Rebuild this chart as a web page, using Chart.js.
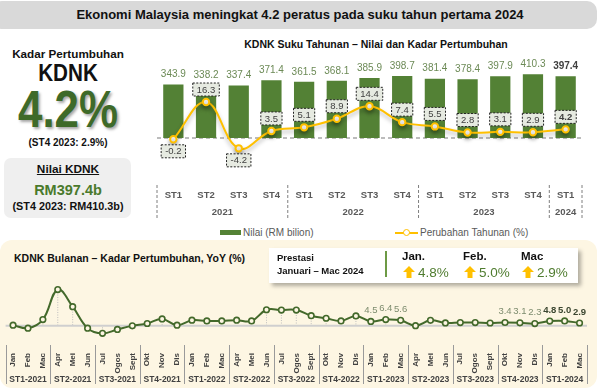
<!DOCTYPE html>
<html>
<head>
<meta charset="utf-8">
<script src="https://cdn.jsdelivr.net/npm/chart.js@4.4.1/dist/chart.umd.min.js"></script>
<style>
body{margin:0;width:600px;height:391px;overflow:hidden;background:#fff;position:relative;font-family:"Liberation Sans",Arial,sans-serif}
.abs{position:absolute;white-space:nowrap}
.c{text-align:center}
.b{font-weight:bold}
.narrow{transform:scaleX(0.86)}
</style>
</head>
<body>
<!-- header banner -->
<div class="abs" style="left:-8px;top:1px;width:605px;height:28px;background:#d9d9d9;border-radius:10px"></div>
<div class="abs c b" style="left:0;top:1px;width:600px;line-height:28px;font-size:13px;color:#111">Ekonomi Malaysia meningkat 4.2 peratus pada suku tahun pertama 2024</div>

<!-- left panel -->
<div class="abs c b" style="left:0;top:46px;width:136px;line-height:15px;font-size:11.7px;color:#111">Kadar Pertumbuhan</div>
<div class="abs c b narrow" style="left:0;top:60px;width:136px;line-height:26px;font-size:24px;color:#111">KDNK</div>
<div class="abs c b narrow" style="left:0;top:82px;width:136px;line-height:56px;font-size:51px;color:#3e6a29;text-shadow:2px 2px 3px rgba(0,0,0,0.35)">4.2%</div>
<div class="abs c b" style="left:0;top:137px;width:136px;line-height:12px;font-size:10px;color:#111">(ST4 2023: 2.9%)</div>
<div class="abs" style="left:4px;top:158px;width:127px;height:60px;background:#efefef;border-radius:7px"></div>
<div class="abs c b" style="left:0;top:162px;width:136px;line-height:15px;font-size:11.8px;color:#111;text-decoration:underline">Nilai KDNK</div>
<div class="abs c b" style="left:0;top:181px;width:136px;line-height:18px;font-size:14.5px;color:#4a7a2c">RM397.4b</div>
<div class="abs c b" style="left:0;top:200px;width:136px;line-height:13px;font-size:10.8px;color:#111">(ST4 2023: RM410.3b)</div>

<!-- quarterly chart -->
<div class="abs c b" style="left:226px;top:37px;width:300px;line-height:14px;font-size:10.5px;color:#111">KDNK Suku Tahunan – Nilai dan Kadar Pertumbuhan</div>
<canvas id="quarterChart" class="abs" style="left:150px;top:52px" width="450" height="172"></canvas>
<div class="abs" style="left:220px;top:230px;width:21px;height:5px;background:#548235"></div>
<div class="abs" style="left:243px;top:226px;line-height:13px;font-size:10px;color:#595959">Nilai (RM bilion)</div>
<div class="abs" style="left:395px;top:231.5px;width:23px;height:2px;background:#ffc000"></div>
<div class="abs" style="left:403px;top:228.5px;width:5px;height:5px;background:#fff;border:1.5px solid #ffc000;border-radius:50%"></div>
<div class="abs" style="left:420px;top:226px;line-height:13px;font-size:10px;color:#595959">Perubahan Tahunan (%)</div>

<!-- monthly panel -->
<div class="abs" style="left:0;top:240px;width:597px;height:148px;background:#fdf6e3;border-radius:12px"></div>
<div class="abs b" style="left:14px;top:251px;line-height:14px;font-size:10.5px;color:#111">KDNK Bulanan – Kadar Pertumbuhan, YoY (%)</div>
<canvas id="monthChart" class="abs" style="left:0;top:280px" width="600" height="111"></canvas>

<div class="abs" style="left:269px;top:248px;width:309px;height:35px;background:#fff;box-shadow:3px 3px 4px rgba(0,0,0,0.3)"></div>
<div class="abs b" style="left:277px;top:252px;line-height:12px;font-size:9.5px;color:#111">Prestasi</div>
<div class="abs b" style="left:277px;top:265px;line-height:12px;font-size:9.5px;color:#111">Januari – Mac 2024</div>
<div class="abs" style="left:385px;top:251px;width:1.5px;height:26px;background:#6d9a45"></div>
<div id="prestasi"></div>

<script>
// quarterly GDP
const quarterLabels = ['ST1', 'ST2', 'ST3', 'ST4', 'ST1', 'ST2', 'ST3', 'ST4', 'ST1', 'ST2', 'ST3', 'ST4', 'ST1'];
const quarterYears = ['2021', '2021', '2021', '2021', '2022', '2022', '2022', '2022', '2023', '2023', '2023', '2023', '2024'];
const gdpValue = [343.9, 338.2, 337.4, 371.4, 361.5, 368.1, 385.9, 398.7, 381.4, 378.4, 397.9, 410.3, 397.4];
const gdpGrowth = [-0.2, 16.3, -4.2, 3.5, 5.1, 8.9, 14.4, 7.4, 5.5, 2.8, 3.1, 2.9, 4.2];

// monthly GDP growth
const monthLabels = [
  'Jan', 'Feb', 'Mac', 'Apr', 'Mei', 'Jun', 'Jul', 'Ogos', 'Sept', 'Okt', 'Nov', 'Dis',
  'Jan', 'Feb', 'Mac', 'Apr', 'Mei', 'Jun', 'Jul', 'Ogos', 'Sept', 'Okt', 'Nov', 'Dis',
  'Jan', 'Feb', 'Mac', 'Apr', 'Mei', 'Jun', 'Jul', 'Ogos', 'Sept', 'Okt', 'Nov', 'Dis',
  'Jan', 'Feb', 'Mac'
];
const quarterGroups = ['ST1-2021', 'ST2-2021', 'ST3-2021', 'ST4-2021', 'ST1-2022', 'ST2-2022', 'ST3-2022', 'ST4-2022',
  'ST1-2023', 'ST2-2023', 'ST3-2023', 'ST4-2023', 'ST1-2024'];
const monthlyGrowth = [
  0.7, -2.3, 6.4, 36.7, 19.4, -2.3, -7.6, -3.6, 0.0, 2.4, 7.0, 0.7,
  5.7, 5.0, 5.0, 5.7, 5.0, 16.3, 16.0, 16.0, 10.3, 7.7, 5.0, 10.0,
  4.5, 6.4, 5.6, 0.2, 5.6, 3.0, 3.3, 3.3, 2.9, 3.4, 3.1, 2.3,
  4.8, 5.0, 2.9
];
const labelledMonths = [24, 25, 26, 33, 34, 35, 36, 37, 38];
const boldMonths = [36, 37, 38];

// prestasi Jan - Mac 2024
const prestasiMonths = ['Jan.', 'Feb.', 'Mac'];
const prestasiValues = [4.8, 5.0, 2.9];

const FONT = '"Liberation Sans", Arial, sans-serif';

// prestasi boxes
const prestasiX = [402, 463, 521];
let html = '';
prestasiMonths.forEach((m, i) => {
  const x = prestasiX[i];
  html += `<div class="abs b" style="left:${x}px;top:249px;line-height:14px;font-size:11.5px;color:#111">${m}</div>`;
  html += `<svg class="abs" style="left:${x + 1}px;top:266px" width="12" height="12"><polygon points="6,0 12,6 8.5,6 8.5,12 3.5,12 3.5,6 0,6" fill="#ffc000"/></svg>`;
  html += `<div class="abs" style="left:${x + 16}px;top:265px;line-height:16px;font-size:13.5px;color:#4f7c2f">${prestasiValues[i].toFixed(1)}%</div>`;
});
document.getElementById('prestasi').innerHTML = html;

const quarterDecor = {
  id: 'quarterDecor',
  beforeDatasetsDraw(chart) {
    const { ctx, chartArea: a, scales } = chart;
    const y0 = scales.y.getPixelForValue(0);
    ctx.save();
    ctx.strokeStyle = '#a6a6a6';
    ctx.lineWidth = 1.5;
    ctx.setLineDash([4, 3]);
    ctx.beginPath();
    ctx.moveTo(a.left, y0);
    ctx.lineTo(a.right, y0);
    ctx.stroke();
    ctx.restore();
  },
  beforeDatasetDraw(chart, args) {
    if (args.meta.type !== 'line') return;
    const ctx = chart.ctx;
    ctx.save();
    ctx.shadowColor = 'rgba(0,0,0,0.3)';
    ctx.shadowBlur = 4;
    ctx.shadowOffsetY = 3;
  },
  afterDatasetDraw(chart, args) {
    if (args.meta.type === 'line') chart.ctx.restore();
  },
  afterDatasetsDraw(chart) {
    const { ctx, chartArea: a, scales } = chart;
    const last = gdpValue.length - 1;
    ctx.save();
    // bar values
    ctx.textAlign = 'center';
    ctx.textBaseline = 'middle';
    chart.getDatasetMeta(0).data.forEach((el, i) => {
      ctx.font = (i === last ? 'bold ' : '') + '10px ' + FONT;
      ctx.fillStyle = i === last ? '#404040' : '#6c8a56';
      ctx.fillText(gdpValue[i].toFixed(1), el.x, el.y - 10);
    });
    // growth boxes
    chart.getDatasetMeta(1).data.forEach((el, i) => {
      const v = gdpGrowth[i];
      const txt = v.toFixed(1);
      ctx.font = (i === last ? 'bold ' : '') + '9.5px ' + FONT;
      const w = ctx.measureText(txt).width + 8;
      const h = 13;
      const cy = v >= 0 ? el.y - 12.5 : el.y + 12;
      ctx.fillStyle = '#e6eae1';
      ctx.fillRect(el.x - w / 2, cy - h / 2, w, h);
      ctx.strokeStyle = '#222';
      ctx.lineWidth = 1;
      ctx.setLineDash([2, 1.5]);
      ctx.strokeRect(el.x - w / 2, cy - h / 2, w, h);
      ctx.setLineDash([]);
      ctx.fillStyle = '#404040';
      ctx.fillText(txt, el.x, cy + 0.5);
    });
    // axis labels
    const x = scales.x;
    const half = (x.getPixelForValue(1) - x.getPixelForValue(0)) / 2;
    ctx.font = 'bold 9.5px ' + FONT;
    ctx.fillStyle = '#595959';
    quarterLabels.forEach((q, i) => ctx.fillText(q, x.getPixelForValue(i), a.bottom + 20.7));
    let start = 0;
    ctx.strokeStyle = '#7f7f7f';
    ctx.lineWidth = 1;
    ctx.setLineDash([3, 2]);
    const sep = px => {
      ctx.beginPath();
      ctx.moveTo(px, a.bottom + 10);
      ctx.lineTo(px, a.bottom + 43);
      ctx.stroke();
    };
    sep(x.getPixelForValue(0) - half);
    for (let i = 1; i <= quarterYears.length; i++) {
      if (i === quarterYears.length || quarterYears[i] !== quarterYears[start]) {
        const cx = (x.getPixelForValue(start) + x.getPixelForValue(i - 1)) / 2;
        ctx.fillText(quarterYears[start], cx, a.bottom + 37.7);
        sep(x.getPixelForValue(i - 1) + half);
        start = i;
      }
    }
    ctx.restore();
  }
};

new Chart(document.getElementById('quarterChart'), {
  type: 'bar',
  data: {
    labels: quarterLabels,
    datasets: [{
      type: 'bar',
      label: 'Nilai (RM bilion)',
      data: gdpValue,
      backgroundColor: '#538135',
      categoryPercentage: 1,
      barPercentage: 0.62,
      yAxisID: 'y',
      order: 2
    }, {
      type: 'line',
      label: 'Perubahan Tahunan (%)',
      data: gdpGrowth,
      borderColor: '#ffc000',
      borderWidth: 2,
      tension: 0.4,
      pointRadius: 3.2,
      pointBackgroundColor: '#fff',
      pointBorderColor: '#ffc000',
      pointBorderWidth: 2,
      yAxisID: 'y2',
      order: 1
    }]
  },
  options: {
    responsive: false,
    animation: false,
    layout: { padding: { left: 7, right: 18, top: 8, bottom: 49 } },
    plugins: { legend: { display: false }, tooltip: { enabled: false } },
    scales: {
      x: { display: false },
      y: { display: false, min: -237.9, max: 501.6 },
      y2: { display: false, min: -16.0, max: 34.9 }
    }
  },
  plugins: [quarterDecor]
});

const monthDecor = {
  id: 'monthDecor',
  beforeDatasetsDraw(chart) {
    const { ctx, chartArea: a, scales } = chart;
    const y0 = scales.y.getPixelForValue(0);
    ctx.save();
    ctx.strokeStyle = '#bdbdbd';
    ctx.lineWidth = 1;
    ctx.setLineDash([1, 1.5]);
    monthlyGrowth.forEach((v, i) => {
      if (v > 6 || v < -5) {
        const px = scales.x.getPixelForValue(i);
        ctx.beginPath();
        ctx.moveTo(px, scales.y.getPixelForValue(v));
        ctx.lineTo(px, y0);
        ctx.stroke();
      }
    });
    ctx.setLineDash([]);
    ctx.strokeStyle = '#cfcfcf';
    ctx.lineWidth = 2;
    ctx.beginPath();
    ctx.moveTo(a.left, y0);
    ctx.lineTo(a.right, y0);
    ctx.stroke();
    ctx.restore();
  },
  afterDatasetsDraw(chart) {
    const { ctx } = chart;
    ctx.save();
    ctx.textAlign = 'center';
    ctx.textBaseline = 'middle';
    const pts = chart.getDatasetMeta(0).data;
    labelledMonths.forEach(i => {
      const bold = boldMonths.includes(i);
      ctx.font = (bold ? 'bold ' : '') + '9.5px ' + FONT;
      ctx.fillStyle = bold ? '#3b4630' : '#7d8c6e';
      ctx.fillText(monthlyGrowth[i].toFixed(1), pts[i].x, pts[i].y - 11);
    });
    ctx.restore();
  },
  afterDraw(chart) {
    const { ctx, chartArea: a, scales } = chart;
    const x = scales.x;
    const half = (x.getPixelForValue(1) - x.getPixelForValue(0)) / 2;
    ctx.save();
    ctx.font = 'bold 8.5px ' + FONT;
    ctx.fillStyle = '#404040';
    ctx.textAlign = 'center';
    ctx.textBaseline = 'middle';
    ctx.strokeStyle = '#9a9a9a';
    ctx.lineWidth = 1;
    quarterGroups.forEach((q, g) => {
      const first = x.getPixelForValue(g * 3);
      const lastPx = x.getPixelForValue(g * 3 + 2);
      ctx.fillText(q, (first + lastPx) / 2, a.bottom + 39.5);
      const left = Math.round(first - half) + 0.5;
      ctx.beginPath();
      ctx.moveTo(left, a.bottom + 5);
      ctx.lineTo(left, a.bottom + 44);
      ctx.stroke();
    });
    const right = Math.round(x.getPixelForValue(monthLabels.length - 1) + half) + 0.5;
    ctx.beginPath();
    ctx.moveTo(right, a.bottom + 5);
    ctx.lineTo(right, a.bottom + 44);
    ctx.stroke();
    ctx.restore();
  }
};

new Chart(document.getElementById('monthChart'), {
  type: 'line',
  data: {
    labels: monthLabels,
    datasets: [{
      data: monthlyGrowth,
      borderColor: '#43692b',
      borderWidth: 2,
      tension: 0.4,
      pointRadius: 2.8,
      pointBackgroundColor: '#fdf6e3',
      pointBorderColor: '#43692b',
      pointBorderWidth: 1.6
    }]
  },
  options: {
    responsive: false,
    animation: false,
    layout: { padding: { left: 5, right: 13, top: 5, bottom: 0 } },
    plugins: { legend: { display: false }, tooltip: { enabled: false } },
    scales: {
      x: {
        offset: true,
        grid: { display: false },
        border: { display: false },
        afterFit: scale => { scale.height = 51; },
        ticks: {
          autoSkip: false,
          minRotation: 90,
          maxRotation: 90,
          padding: 5,
          color: '#404040',
          font: { family: FONT, size: 8, weight: 'bold' }
        }
      },
      y: { display: false, min: -14.3, max: 40.7 }
    }
  },
  plugins: [monthDecor]
});
</script>
</body>
</html>
